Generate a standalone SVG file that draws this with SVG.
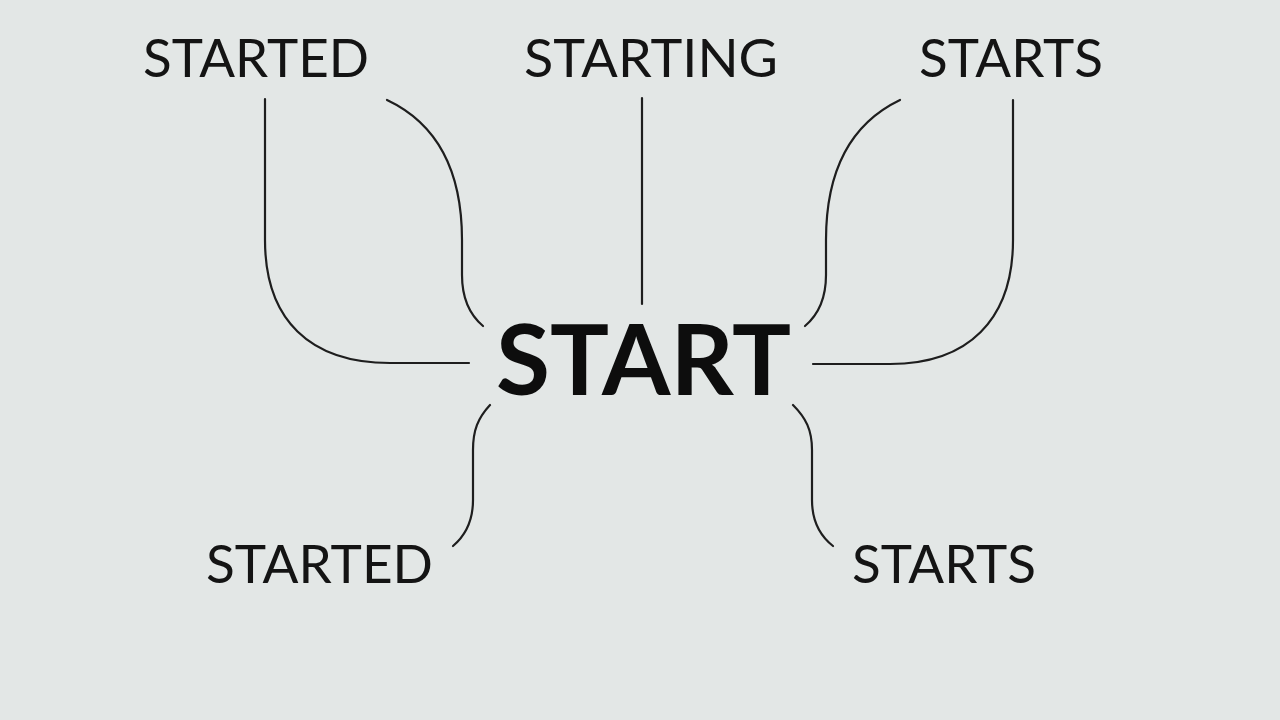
<svg xmlns="http://www.w3.org/2000/svg" width="1280" height="720" viewBox="0 0 1280 720">
<style>
.lbl{font-family:Lato,"Noto Sans","Liberation Sans",sans-serif;font-size:52px;fill:#141414;}
.main{font-family:Lato,"Noto Sans","Liberation Sans",sans-serif;font-size:98px;font-weight:bold;fill:#0d0d0d;}
.c{fill:none;stroke:#1e1e1e;stroke-width:2.2;stroke-linecap:round;}
</style>
<rect width="1280" height="720" fill="#e3e7e6"/>
<g id="connectors">
<path class="c" d="M265,99 L265,240 C265,320 310,363 390,363 L469,363"/>
<path class="c" d="M387,100 C440,125 462,175 462,240 L462,275 C462,300 470,315 483,326"/>
<path class="c" d="M642,98 L642,304"/>
<path class="c" d="M900,100 C848,125 826,175 826,240 L826,275 C826,300 818,315 805,326"/>
<path class="c" d="M1013,100 L1013,240 C1013,320 968,364 890,364 L813,364"/>
<path class="c" d="M490,405 C478,418 473,430 473,450 L473,500 C473,520 466,535 453,546"/>
<path class="c" d="M793,405 C806,418 812,430 812,450 L812,500 C812,520 819,535 833,546"/>
</g>
<g id="node-start"><text class="main" x="496" y="395" textLength="295" lengthAdjust="spacingAndGlyphs">START</text></g>
<g id="node-started-top"><text class="lbl" x="143" y="77" textLength="226" lengthAdjust="spacingAndGlyphs">STARTED</text></g>
<g id="node-starting"><text class="lbl" x="524" y="77" textLength="254" lengthAdjust="spacingAndGlyphs">STARTING</text></g>
<g id="node-starts-top"><text class="lbl" x="919" y="77" textLength="184" lengthAdjust="spacingAndGlyphs">STARTS</text></g>
<g id="node-started-bottom"><text class="lbl" x="206" y="583" textLength="227" lengthAdjust="spacingAndGlyphs">STARTED</text></g>
<g id="node-starts-bottom"><text class="lbl" x="852" y="583" textLength="184" lengthAdjust="spacingAndGlyphs">STARTS</text></g>
</svg>
